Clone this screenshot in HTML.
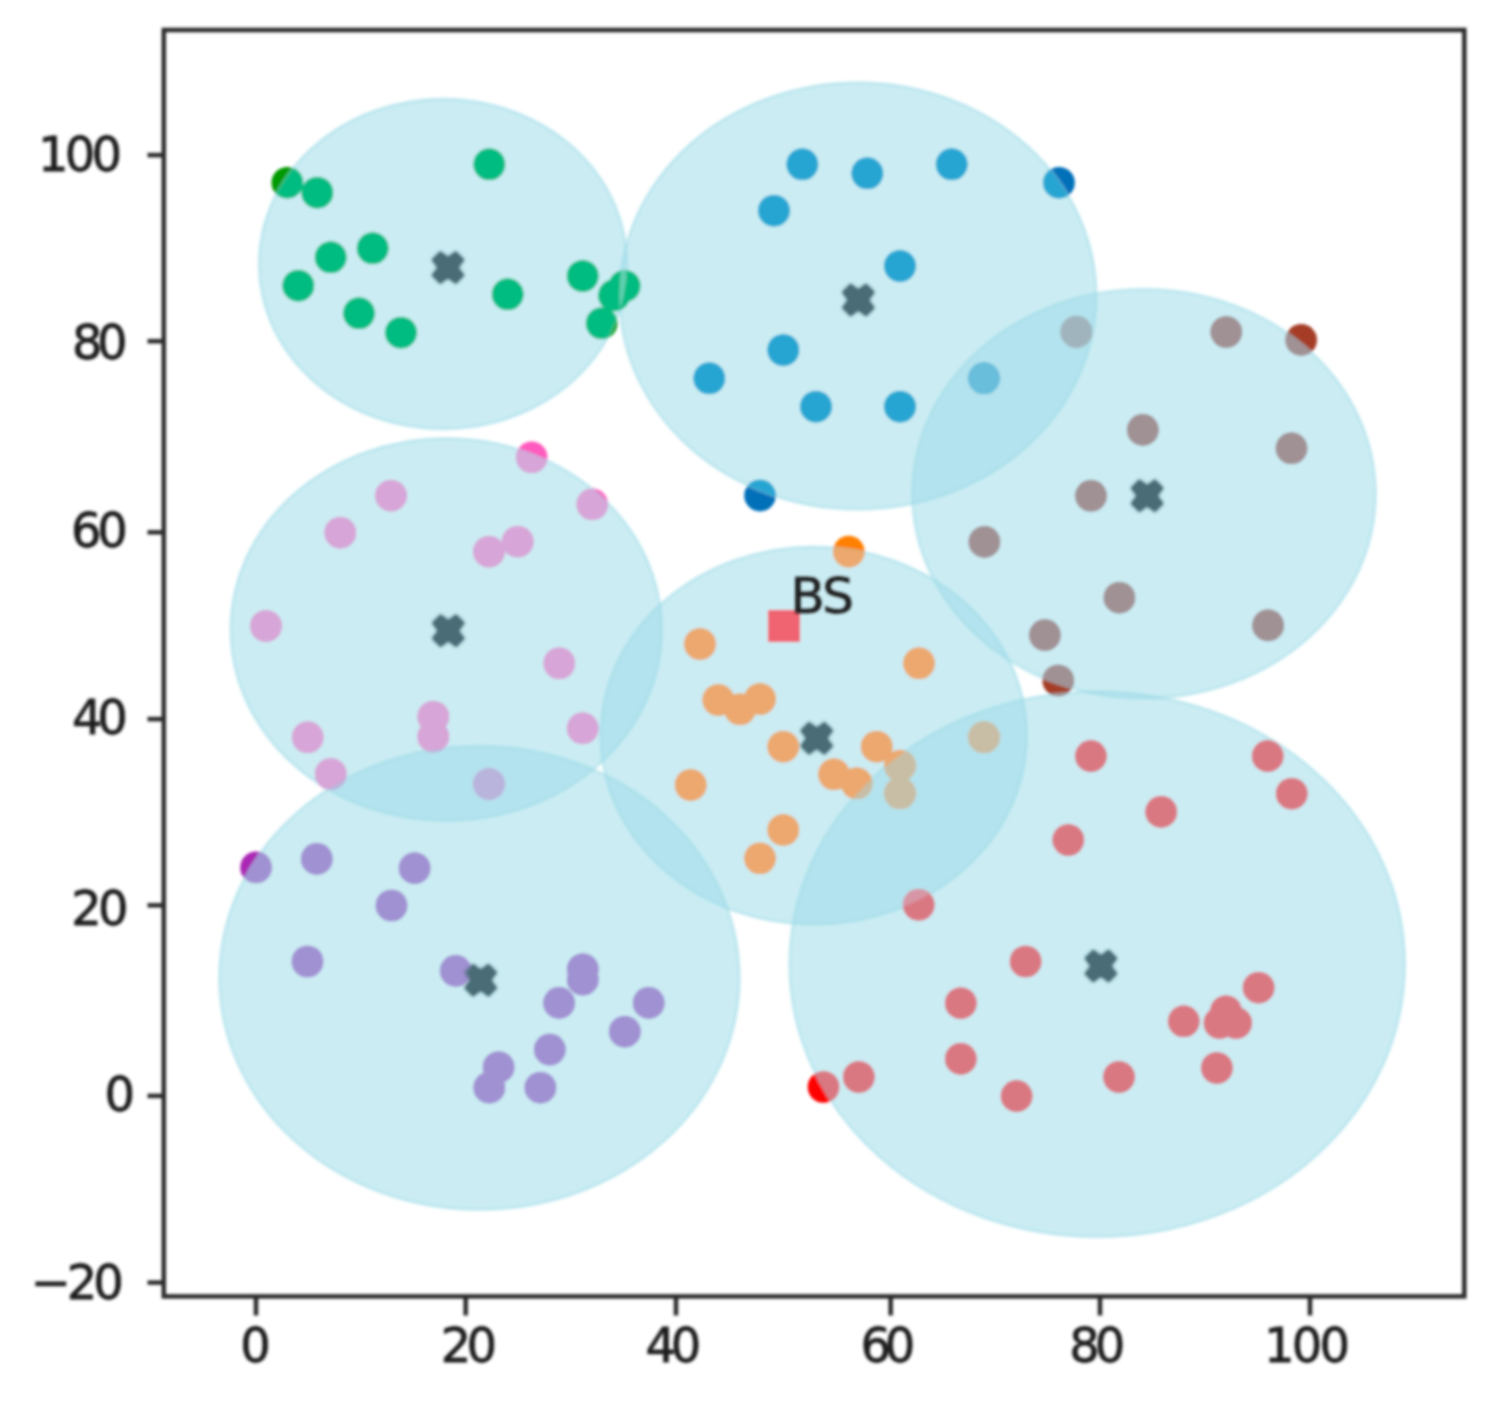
<!DOCTYPE html>
<html lang="en"><head><meta charset="utf-8"><title>Clusters</title>
<style>
html,body{margin:0;padding:0;background:#fff;}
body{width:1500px;height:1405px;overflow:hidden;}
svg{display:block;}
text{font-family:"DejaVu Sans","Liberation Sans",sans-serif;fill:#1e1e1e;}
</style></head><body>
<svg width="1500" height="1405" viewBox="0 0 1500 1405">
<defs>
<filter id="soft" x="-2%" y="-2%" width="104%" height="104%"><feGaussianBlur stdDeviation="1.5"/></filter>

<clipPath id="c-green"><ellipse cx="443.0" cy="264.0" rx="184.0" ry="165.0"/></clipPath>
<clipPath id="c-blue"><ellipse cx="857.8" cy="296.0" rx="238.4" ry="213.4"/></clipPath>
<clipPath id="c-brown"><ellipse cx="1144.0" cy="493.8" rx="231.6" ry="204.6"/></clipPath>
<clipPath id="c-pink"><ellipse cx="446.2" cy="629.5" rx="215.5" ry="191.2"/></clipPath>
<clipPath id="c-orange"><ellipse cx="813.7" cy="735.6" rx="213.0" ry="188.8"/></clipPath>
<clipPath id="c-purple"><ellipse cx="479.4" cy="977.9" rx="260.0" ry="231.8"/></clipPath>
<clipPath id="c-red"><ellipse cx="1097.2" cy="964.2" rx="307.6" ry="272.6"/></clipPath>
<clipPath id="c-all"><ellipse cx="443.0" cy="264.0" rx="184.0" ry="165.0"/><ellipse cx="857.8" cy="296.0" rx="238.4" ry="213.4"/><ellipse cx="1144.0" cy="493.8" rx="231.6" ry="204.6"/><ellipse cx="446.2" cy="629.5" rx="215.5" ry="191.2"/><ellipse cx="813.7" cy="735.6" rx="213.0" ry="188.8"/><ellipse cx="479.4" cy="977.9" rx="260.0" ry="231.8"/><ellipse cx="1097.2" cy="964.2" rx="307.6" ry="272.6"/></clipPath>
<path id="xm" d="M-1,-2 L0,-1.25 L1,-2 L2,-1 L1.25,0 L2,1 L1,2 L0,1.25 L-1,2 L-2,1 L-1.25,0 L-2,-1 Z" transform="scale(7.7)" stroke-width="0.2" stroke-linejoin="round"/>
</defs>
<rect width="1500" height="1405" fill="#fff"/>
<g filter="url(#soft)">
<g><g fill="#009900"><circle cx="287.3" cy="182.7" r="15.8"/><circle cx="317.3" cy="192.7" r="15.8"/><circle cx="489.3" cy="164.3" r="15.8"/><circle cx="372.7" cy="248.3" r="15.8"/><circle cx="330.7" cy="257.3" r="15.8"/><circle cx="298.3" cy="285.7" r="15.8"/><circle cx="359.0" cy="313.3" r="15.8"/><circle cx="401.0" cy="332.7" r="15.8"/><circle cx="507.7" cy="294.3" r="15.8"/><circle cx="582.7" cy="276.0" r="15.8"/><circle cx="614.1" cy="295.4" r="15.8"/><circle cx="624.6" cy="286.0" r="15.8"/><circle cx="601.7" cy="323.3" r="15.8"/></g><g fill="#0070B9"><circle cx="802.3" cy="164.3" r="15.8"/><circle cx="867.3" cy="173.3" r="15.8"/><circle cx="951.7" cy="164.3" r="15.8"/><circle cx="1059.0" cy="182.7" r="15.8"/><circle cx="774.0" cy="210.7" r="15.8"/><circle cx="900.0" cy="266.0" r="15.8"/><circle cx="783.3" cy="350.0" r="15.8"/><circle cx="709.3" cy="378.3" r="15.8"/><circle cx="816.0" cy="406.7" r="15.8"/><circle cx="900.0" cy="406.7" r="15.8"/><circle cx="984.0" cy="378.3" r="15.8"/><circle cx="760.0" cy="495.6" r="15.8"/></g><g fill="#A53C28"><circle cx="1076.4" cy="331.9" r="15.8"/><circle cx="1226.3" cy="332.0" r="15.8"/><circle cx="1301.2" cy="339.9" r="15.8"/><circle cx="1142.8" cy="429.9" r="15.8"/><circle cx="1291.5" cy="448.3" r="15.8"/><circle cx="1091.0" cy="495.8" r="15.8"/><circle cx="984.4" cy="541.9" r="15.8"/><circle cx="1119.4" cy="597.7" r="15.8"/><circle cx="1268.1" cy="625.4" r="15.8"/><circle cx="1044.9" cy="635.1" r="15.8"/><circle cx="1058.2" cy="680.5" r="15.8"/></g><g fill="#FF5ABE"><circle cx="531.7" cy="457.3" r="15.8"/><circle cx="391.0" cy="495.7" r="15.8"/><circle cx="592.3" cy="504.3" r="15.8"/><circle cx="340.3" cy="532.7" r="15.8"/><circle cx="517.7" cy="541.7" r="15.8"/><circle cx="489.0" cy="551.7" r="15.8"/><circle cx="266.0" cy="626.0" r="15.8"/><circle cx="559.3" cy="663.3" r="15.8"/><circle cx="433.3" cy="716.7" r="15.8"/><circle cx="433.3" cy="736.7" r="15.8"/><circle cx="307.7" cy="737.3" r="15.8"/><circle cx="582.7" cy="728.3" r="15.8"/><circle cx="330.7" cy="774.0" r="15.8"/><circle cx="489.0" cy="784.0" r="15.8"/></g><g fill="#FF8000"><circle cx="848.8" cy="551.6" r="15.8"/><circle cx="700.0" cy="644.0" r="15.8"/><circle cx="919.0" cy="663.3" r="15.8"/><circle cx="718.3" cy="700.0" r="15.8"/><circle cx="740.0" cy="709.3" r="15.8"/><circle cx="760.0" cy="699.0" r="15.8"/><circle cx="783.3" cy="746.7" r="15.8"/><circle cx="876.7" cy="746.7" r="15.8"/><circle cx="900.0" cy="765.7" r="15.8"/><circle cx="834.0" cy="774.3" r="15.8"/><circle cx="856.7" cy="783.3" r="15.8"/><circle cx="900.0" cy="793.3" r="15.8"/><circle cx="984.0" cy="737.3" r="15.8"/><circle cx="690.7" cy="785.0" r="15.8"/><circle cx="783.3" cy="830.0" r="15.8"/><circle cx="760.0" cy="858.3" r="15.8"/></g><g fill="#AA28B4"><circle cx="256.0" cy="867.4" r="15.8"/><circle cx="316.8" cy="858.9" r="15.8"/><circle cx="414.6" cy="868.2" r="15.8"/><circle cx="391.5" cy="905.5" r="15.8"/><circle cx="307.5" cy="961.5" r="15.8"/><circle cx="455.7" cy="970.8" r="15.8"/><circle cx="582.8" cy="969.2" r="15.8"/><circle cx="582.8" cy="979.7" r="15.8"/><circle cx="559.1" cy="1002.9" r="15.8"/><circle cx="648.7" cy="1002.9" r="15.8"/><circle cx="624.8" cy="1031.7" r="15.8"/><circle cx="549.8" cy="1049.6" r="15.8"/><circle cx="498.6" cy="1067.2" r="15.8"/><circle cx="489.3" cy="1087.7" r="15.8"/><circle cx="540.4" cy="1087.7" r="15.8"/></g><g fill="#FF0000"><circle cx="1090.9" cy="756.1" r="15.8"/><circle cx="1267.7" cy="756.1" r="15.8"/><circle cx="1291.7" cy="793.7" r="15.8"/><circle cx="1161.2" cy="811.9" r="15.8"/><circle cx="1068.3" cy="840.0" r="15.8"/><circle cx="918.7" cy="904.8" r="15.8"/><circle cx="1025.6" cy="961.5" r="15.8"/><circle cx="960.8" cy="1003.2" r="15.8"/><circle cx="960.8" cy="1058.9" r="15.8"/><circle cx="858.8" cy="1077.0" r="15.8"/><circle cx="823.5" cy="1087.0" r="15.8"/><circle cx="1016.6" cy="1096.1" r="15.8"/><circle cx="1119.0" cy="1077.0" r="15.8"/><circle cx="1216.9" cy="1068.0" r="15.8"/><circle cx="1183.8" cy="1021.3" r="15.8"/><circle cx="1219.5" cy="1023.0" r="15.8"/><circle cx="1226.0" cy="1011.2" r="15.8"/><circle cx="1236.1" cy="1023.0" r="15.8"/><circle cx="1258.6" cy="987.7" r="15.8"/></g></g>
<rect x="768.0" y="610.0" width="32" height="32" fill="#ff0000"/>
<g fill="#000" stroke="#000"><use href="#xm" x="448.0" y="267.6"/><use href="#xm" x="858.3" y="300.0"/><use href="#xm" x="1147.1" y="495.8"/><use href="#xm" x="448.3" y="630.7"/><use href="#xm" x="816.7" y="738.3"/><use href="#xm" x="480.7" y="980.2"/><use href="#xm" x="1100.9" y="966.0"/></g>
<g fill="rgb(157,219,232)" fill-opacity="0.53" stroke="rgb(157,219,232)" stroke-opacity="0.5" stroke-width="2.8"><ellipse cx="443.0" cy="264.0" rx="184.0" ry="165.0"/><ellipse cx="857.8" cy="296.0" rx="238.4" ry="213.4"/><ellipse cx="1144.0" cy="493.8" rx="231.6" ry="204.6"/><ellipse cx="446.2" cy="629.5" rx="215.5" ry="191.2"/><ellipse cx="813.7" cy="735.6" rx="213.0" ry="188.8"/><ellipse cx="479.4" cy="977.9" rx="260.0" ry="231.8"/><ellipse cx="1097.2" cy="964.2" rx="307.6" ry="272.6"/></g>
<g clip-path="url(#c-all)"><g fill="#00BC80"><circle cx="287.3" cy="182.7" r="15.8"/><circle cx="317.3" cy="192.7" r="15.8"/><circle cx="489.3" cy="164.3" r="15.8"/><circle cx="372.7" cy="248.3" r="15.8"/><circle cx="330.7" cy="257.3" r="15.8"/><circle cx="298.3" cy="285.7" r="15.8"/><circle cx="359.0" cy="313.3" r="15.8"/><circle cx="401.0" cy="332.7" r="15.8"/><circle cx="507.7" cy="294.3" r="15.8"/><circle cx="582.7" cy="276.0" r="15.8"/><circle cx="614.1" cy="295.4" r="15.8"/><circle cx="624.6" cy="286.0" r="15.8"/><circle cx="601.7" cy="323.3" r="15.8"/></g><g fill="#28A5D2"><circle cx="802.3" cy="164.3" r="15.8"/><circle cx="867.3" cy="173.3" r="15.8"/><circle cx="951.7" cy="164.3" r="15.8"/><circle cx="1059.0" cy="182.7" r="15.8"/><circle cx="774.0" cy="210.7" r="15.8"/><circle cx="900.0" cy="266.0" r="15.8"/><circle cx="783.3" cy="350.0" r="15.8"/><circle cx="709.3" cy="378.3" r="15.8"/><circle cx="816.0" cy="406.7" r="15.8"/><circle cx="900.0" cy="406.7" r="15.8"/><circle cx="984.0" cy="378.3" r="15.8"/><circle cx="760.0" cy="495.6" r="15.8"/></g><g fill="#A09194"><circle cx="1076.4" cy="331.9" r="15.8"/><circle cx="1226.3" cy="332.0" r="15.8"/><circle cx="1301.2" cy="339.9" r="15.8"/><circle cx="1142.8" cy="429.9" r="15.8"/><circle cx="1291.5" cy="448.3" r="15.8"/><circle cx="1091.0" cy="495.8" r="15.8"/><circle cx="984.4" cy="541.9" r="15.8"/><circle cx="1119.4" cy="597.7" r="15.8"/><circle cx="1268.1" cy="625.4" r="15.8"/><circle cx="1044.9" cy="635.1" r="15.8"/><circle cx="1058.2" cy="680.5" r="15.8"/></g><g fill="#D7A5D7"><circle cx="531.7" cy="457.3" r="15.8"/><circle cx="391.0" cy="495.7" r="15.8"/><circle cx="592.3" cy="504.3" r="15.8"/><circle cx="340.3" cy="532.7" r="15.8"/><circle cx="517.7" cy="541.7" r="15.8"/><circle cx="489.0" cy="551.7" r="15.8"/><circle cx="266.0" cy="626.0" r="15.8"/><circle cx="559.3" cy="663.3" r="15.8"/><circle cx="433.3" cy="716.7" r="15.8"/><circle cx="433.3" cy="736.7" r="15.8"/><circle cx="307.7" cy="737.3" r="15.8"/><circle cx="582.7" cy="728.3" r="15.8"/><circle cx="330.7" cy="774.0" r="15.8"/><circle cx="489.0" cy="784.0" r="15.8"/></g><g fill="#ECA86E"><circle cx="848.8" cy="551.6" r="15.8"/><circle cx="700.0" cy="644.0" r="15.8"/><circle cx="919.0" cy="663.3" r="15.8"/><circle cx="718.3" cy="700.0" r="15.8"/><circle cx="740.0" cy="709.3" r="15.8"/><circle cx="760.0" cy="699.0" r="15.8"/><circle cx="783.3" cy="746.7" r="15.8"/><circle cx="876.7" cy="746.7" r="15.8"/><circle cx="900.0" cy="765.7" r="15.8"/><circle cx="834.0" cy="774.3" r="15.8"/><circle cx="856.7" cy="783.3" r="15.8"/><circle cx="900.0" cy="793.3" r="15.8"/><circle cx="984.0" cy="737.3" r="15.8"/><circle cx="690.7" cy="785.0" r="15.8"/><circle cx="783.3" cy="830.0" r="15.8"/><circle cx="760.0" cy="858.3" r="15.8"/></g><g fill="#A091D2"><circle cx="256.0" cy="867.4" r="15.8"/><circle cx="316.8" cy="858.9" r="15.8"/><circle cx="414.6" cy="868.2" r="15.8"/><circle cx="391.5" cy="905.5" r="15.8"/><circle cx="307.5" cy="961.5" r="15.8"/><circle cx="455.7" cy="970.8" r="15.8"/><circle cx="582.8" cy="969.2" r="15.8"/><circle cx="582.8" cy="979.7" r="15.8"/><circle cx="559.1" cy="1002.9" r="15.8"/><circle cx="648.7" cy="1002.9" r="15.8"/><circle cx="624.8" cy="1031.7" r="15.8"/><circle cx="549.8" cy="1049.6" r="15.8"/><circle cx="498.6" cy="1067.2" r="15.8"/><circle cx="489.3" cy="1087.7" r="15.8"/><circle cx="540.4" cy="1087.7" r="15.8"/></g><g fill="#DA7882"><circle cx="1090.9" cy="756.1" r="15.8"/><circle cx="1267.7" cy="756.1" r="15.8"/><circle cx="1291.7" cy="793.7" r="15.8"/><circle cx="1161.2" cy="811.9" r="15.8"/><circle cx="1068.3" cy="840.0" r="15.8"/><circle cx="918.7" cy="904.8" r="15.8"/><circle cx="1025.6" cy="961.5" r="15.8"/><circle cx="960.8" cy="1003.2" r="15.8"/><circle cx="960.8" cy="1058.9" r="15.8"/><circle cx="858.8" cy="1077.0" r="15.8"/><circle cx="823.5" cy="1087.0" r="15.8"/><circle cx="1016.6" cy="1096.1" r="15.8"/><circle cx="1119.0" cy="1077.0" r="15.8"/><circle cx="1216.9" cy="1068.0" r="15.8"/><circle cx="1183.8" cy="1021.3" r="15.8"/><circle cx="1219.5" cy="1023.0" r="15.8"/><circle cx="1226.0" cy="1011.2" r="15.8"/><circle cx="1236.1" cy="1023.0" r="15.8"/><circle cx="1258.6" cy="987.7" r="15.8"/></g>
<rect x="768.0" y="610.0" width="32" height="32" fill="#F0646F"/>
<g fill="#486C76" stroke="#486C76" filter="url(#soft)"><use href="#xm" x="448.0" y="267.6"/><use href="#xm" x="858.3" y="300.0"/><use href="#xm" x="1147.1" y="495.8"/><use href="#xm" x="448.3" y="630.7"/><use href="#xm" x="816.7" y="738.3"/><use href="#xm" x="480.7" y="980.2"/><use href="#xm" x="1100.9" y="966.0"/></g>
</g>
<g clip-path="url(#c-blue)"><g clip-path="url(#c-brown)"><g fill="#5fd0b0"><circle cx="287.3" cy="182.7" r="15.8"/><circle cx="317.3" cy="192.7" r="15.8"/><circle cx="489.3" cy="164.3" r="15.8"/><circle cx="372.7" cy="248.3" r="15.8"/><circle cx="330.7" cy="257.3" r="15.8"/><circle cx="298.3" cy="285.7" r="15.8"/><circle cx="359.0" cy="313.3" r="15.8"/><circle cx="401.0" cy="332.7" r="15.8"/><circle cx="507.7" cy="294.3" r="15.8"/><circle cx="582.7" cy="276.0" r="15.8"/><circle cx="614.1" cy="295.4" r="15.8"/><circle cx="624.6" cy="286.0" r="15.8"/><circle cx="601.7" cy="323.3" r="15.8"/></g><g fill="#69BEDC"><circle cx="802.3" cy="164.3" r="15.8"/><circle cx="867.3" cy="173.3" r="15.8"/><circle cx="951.7" cy="164.3" r="15.8"/><circle cx="1059.0" cy="182.7" r="15.8"/><circle cx="774.0" cy="210.7" r="15.8"/><circle cx="900.0" cy="266.0" r="15.8"/><circle cx="783.3" cy="350.0" r="15.8"/><circle cx="709.3" cy="378.3" r="15.8"/><circle cx="816.0" cy="406.7" r="15.8"/><circle cx="900.0" cy="406.7" r="15.8"/><circle cx="984.0" cy="378.3" r="15.8"/><circle cx="760.0" cy="495.6" r="15.8"/></g><g fill="#A0B4BE"><circle cx="1076.4" cy="331.9" r="15.8"/><circle cx="1226.3" cy="332.0" r="15.8"/><circle cx="1301.2" cy="339.9" r="15.8"/><circle cx="1142.8" cy="429.9" r="15.8"/><circle cx="1291.5" cy="448.3" r="15.8"/><circle cx="1091.0" cy="495.8" r="15.8"/><circle cx="984.4" cy="541.9" r="15.8"/><circle cx="1119.4" cy="597.7" r="15.8"/><circle cx="1268.1" cy="625.4" r="15.8"/><circle cx="1044.9" cy="635.1" r="15.8"/><circle cx="1058.2" cy="680.5" r="15.8"/></g><g fill="#B8B4DC"><circle cx="531.7" cy="457.3" r="15.8"/><circle cx="391.0" cy="495.7" r="15.8"/><circle cx="592.3" cy="504.3" r="15.8"/><circle cx="340.3" cy="532.7" r="15.8"/><circle cx="517.7" cy="541.7" r="15.8"/><circle cx="489.0" cy="551.7" r="15.8"/><circle cx="266.0" cy="626.0" r="15.8"/><circle cx="559.3" cy="663.3" r="15.8"/><circle cx="433.3" cy="716.7" r="15.8"/><circle cx="433.3" cy="736.7" r="15.8"/><circle cx="307.7" cy="737.3" r="15.8"/><circle cx="582.7" cy="728.3" r="15.8"/><circle cx="330.7" cy="774.0" r="15.8"/><circle cx="489.0" cy="784.0" r="15.8"/></g><g fill="#C8BEA5"><circle cx="848.8" cy="551.6" r="15.8"/><circle cx="700.0" cy="644.0" r="15.8"/><circle cx="919.0" cy="663.3" r="15.8"/><circle cx="718.3" cy="700.0" r="15.8"/><circle cx="740.0" cy="709.3" r="15.8"/><circle cx="760.0" cy="699.0" r="15.8"/><circle cx="783.3" cy="746.7" r="15.8"/><circle cx="876.7" cy="746.7" r="15.8"/><circle cx="900.0" cy="765.7" r="15.8"/><circle cx="834.0" cy="774.3" r="15.8"/><circle cx="856.7" cy="783.3" r="15.8"/><circle cx="900.0" cy="793.3" r="15.8"/><circle cx="984.0" cy="737.3" r="15.8"/><circle cx="690.7" cy="785.0" r="15.8"/><circle cx="783.3" cy="830.0" r="15.8"/><circle cx="760.0" cy="858.3" r="15.8"/></g><g fill="#A0B4DC"><circle cx="256.0" cy="867.4" r="15.8"/><circle cx="316.8" cy="858.9" r="15.8"/><circle cx="414.6" cy="868.2" r="15.8"/><circle cx="391.5" cy="905.5" r="15.8"/><circle cx="307.5" cy="961.5" r="15.8"/><circle cx="455.7" cy="970.8" r="15.8"/><circle cx="582.8" cy="969.2" r="15.8"/><circle cx="582.8" cy="979.7" r="15.8"/><circle cx="559.1" cy="1002.9" r="15.8"/><circle cx="648.7" cy="1002.9" r="15.8"/><circle cx="624.8" cy="1031.7" r="15.8"/><circle cx="549.8" cy="1049.6" r="15.8"/><circle cx="498.6" cy="1067.2" r="15.8"/><circle cx="489.3" cy="1087.7" r="15.8"/><circle cx="540.4" cy="1087.7" r="15.8"/></g><g fill="#D796A5"><circle cx="1090.9" cy="756.1" r="15.8"/><circle cx="1267.7" cy="756.1" r="15.8"/><circle cx="1291.7" cy="793.7" r="15.8"/><circle cx="1161.2" cy="811.9" r="15.8"/><circle cx="1068.3" cy="840.0" r="15.8"/><circle cx="918.7" cy="904.8" r="15.8"/><circle cx="1025.6" cy="961.5" r="15.8"/><circle cx="960.8" cy="1003.2" r="15.8"/><circle cx="960.8" cy="1058.9" r="15.8"/><circle cx="858.8" cy="1077.0" r="15.8"/><circle cx="823.5" cy="1087.0" r="15.8"/><circle cx="1016.6" cy="1096.1" r="15.8"/><circle cx="1119.0" cy="1077.0" r="15.8"/><circle cx="1216.9" cy="1068.0" r="15.8"/><circle cx="1183.8" cy="1021.3" r="15.8"/><circle cx="1219.5" cy="1023.0" r="15.8"/><circle cx="1226.0" cy="1011.2" r="15.8"/><circle cx="1236.1" cy="1023.0" r="15.8"/><circle cx="1258.6" cy="987.7" r="15.8"/></g></g></g>
<g clip-path="url(#c-pink)"><g clip-path="url(#c-purple)"><g fill="#5fd0b0"><circle cx="287.3" cy="182.7" r="15.8"/><circle cx="317.3" cy="192.7" r="15.8"/><circle cx="489.3" cy="164.3" r="15.8"/><circle cx="372.7" cy="248.3" r="15.8"/><circle cx="330.7" cy="257.3" r="15.8"/><circle cx="298.3" cy="285.7" r="15.8"/><circle cx="359.0" cy="313.3" r="15.8"/><circle cx="401.0" cy="332.7" r="15.8"/><circle cx="507.7" cy="294.3" r="15.8"/><circle cx="582.7" cy="276.0" r="15.8"/><circle cx="614.1" cy="295.4" r="15.8"/><circle cx="624.6" cy="286.0" r="15.8"/><circle cx="601.7" cy="323.3" r="15.8"/></g><g fill="#69BEDC"><circle cx="802.3" cy="164.3" r="15.8"/><circle cx="867.3" cy="173.3" r="15.8"/><circle cx="951.7" cy="164.3" r="15.8"/><circle cx="1059.0" cy="182.7" r="15.8"/><circle cx="774.0" cy="210.7" r="15.8"/><circle cx="900.0" cy="266.0" r="15.8"/><circle cx="783.3" cy="350.0" r="15.8"/><circle cx="709.3" cy="378.3" r="15.8"/><circle cx="816.0" cy="406.7" r="15.8"/><circle cx="900.0" cy="406.7" r="15.8"/><circle cx="984.0" cy="378.3" r="15.8"/><circle cx="760.0" cy="495.6" r="15.8"/></g><g fill="#A0B4BE"><circle cx="1076.4" cy="331.9" r="15.8"/><circle cx="1226.3" cy="332.0" r="15.8"/><circle cx="1301.2" cy="339.9" r="15.8"/><circle cx="1142.8" cy="429.9" r="15.8"/><circle cx="1291.5" cy="448.3" r="15.8"/><circle cx="1091.0" cy="495.8" r="15.8"/><circle cx="984.4" cy="541.9" r="15.8"/><circle cx="1119.4" cy="597.7" r="15.8"/><circle cx="1268.1" cy="625.4" r="15.8"/><circle cx="1044.9" cy="635.1" r="15.8"/><circle cx="1058.2" cy="680.5" r="15.8"/></g><g fill="#B8B4DC"><circle cx="531.7" cy="457.3" r="15.8"/><circle cx="391.0" cy="495.7" r="15.8"/><circle cx="592.3" cy="504.3" r="15.8"/><circle cx="340.3" cy="532.7" r="15.8"/><circle cx="517.7" cy="541.7" r="15.8"/><circle cx="489.0" cy="551.7" r="15.8"/><circle cx="266.0" cy="626.0" r="15.8"/><circle cx="559.3" cy="663.3" r="15.8"/><circle cx="433.3" cy="716.7" r="15.8"/><circle cx="433.3" cy="736.7" r="15.8"/><circle cx="307.7" cy="737.3" r="15.8"/><circle cx="582.7" cy="728.3" r="15.8"/><circle cx="330.7" cy="774.0" r="15.8"/><circle cx="489.0" cy="784.0" r="15.8"/></g><g fill="#C8BEA5"><circle cx="848.8" cy="551.6" r="15.8"/><circle cx="700.0" cy="644.0" r="15.8"/><circle cx="919.0" cy="663.3" r="15.8"/><circle cx="718.3" cy="700.0" r="15.8"/><circle cx="740.0" cy="709.3" r="15.8"/><circle cx="760.0" cy="699.0" r="15.8"/><circle cx="783.3" cy="746.7" r="15.8"/><circle cx="876.7" cy="746.7" r="15.8"/><circle cx="900.0" cy="765.7" r="15.8"/><circle cx="834.0" cy="774.3" r="15.8"/><circle cx="856.7" cy="783.3" r="15.8"/><circle cx="900.0" cy="793.3" r="15.8"/><circle cx="984.0" cy="737.3" r="15.8"/><circle cx="690.7" cy="785.0" r="15.8"/><circle cx="783.3" cy="830.0" r="15.8"/><circle cx="760.0" cy="858.3" r="15.8"/></g><g fill="#A0B4DC"><circle cx="256.0" cy="867.4" r="15.8"/><circle cx="316.8" cy="858.9" r="15.8"/><circle cx="414.6" cy="868.2" r="15.8"/><circle cx="391.5" cy="905.5" r="15.8"/><circle cx="307.5" cy="961.5" r="15.8"/><circle cx="455.7" cy="970.8" r="15.8"/><circle cx="582.8" cy="969.2" r="15.8"/><circle cx="582.8" cy="979.7" r="15.8"/><circle cx="559.1" cy="1002.9" r="15.8"/><circle cx="648.7" cy="1002.9" r="15.8"/><circle cx="624.8" cy="1031.7" r="15.8"/><circle cx="549.8" cy="1049.6" r="15.8"/><circle cx="498.6" cy="1067.2" r="15.8"/><circle cx="489.3" cy="1087.7" r="15.8"/><circle cx="540.4" cy="1087.7" r="15.8"/></g><g fill="#D796A5"><circle cx="1090.9" cy="756.1" r="15.8"/><circle cx="1267.7" cy="756.1" r="15.8"/><circle cx="1291.7" cy="793.7" r="15.8"/><circle cx="1161.2" cy="811.9" r="15.8"/><circle cx="1068.3" cy="840.0" r="15.8"/><circle cx="918.7" cy="904.8" r="15.8"/><circle cx="1025.6" cy="961.5" r="15.8"/><circle cx="960.8" cy="1003.2" r="15.8"/><circle cx="960.8" cy="1058.9" r="15.8"/><circle cx="858.8" cy="1077.0" r="15.8"/><circle cx="823.5" cy="1087.0" r="15.8"/><circle cx="1016.6" cy="1096.1" r="15.8"/><circle cx="1119.0" cy="1077.0" r="15.8"/><circle cx="1216.9" cy="1068.0" r="15.8"/><circle cx="1183.8" cy="1021.3" r="15.8"/><circle cx="1219.5" cy="1023.0" r="15.8"/><circle cx="1226.0" cy="1011.2" r="15.8"/><circle cx="1236.1" cy="1023.0" r="15.8"/><circle cx="1258.6" cy="987.7" r="15.8"/></g></g></g>
<g clip-path="url(#c-pink)"><g clip-path="url(#c-orange)"><g fill="#5fd0b0"><circle cx="287.3" cy="182.7" r="15.8"/><circle cx="317.3" cy="192.7" r="15.8"/><circle cx="489.3" cy="164.3" r="15.8"/><circle cx="372.7" cy="248.3" r="15.8"/><circle cx="330.7" cy="257.3" r="15.8"/><circle cx="298.3" cy="285.7" r="15.8"/><circle cx="359.0" cy="313.3" r="15.8"/><circle cx="401.0" cy="332.7" r="15.8"/><circle cx="507.7" cy="294.3" r="15.8"/><circle cx="582.7" cy="276.0" r="15.8"/><circle cx="614.1" cy="295.4" r="15.8"/><circle cx="624.6" cy="286.0" r="15.8"/><circle cx="601.7" cy="323.3" r="15.8"/></g><g fill="#69BEDC"><circle cx="802.3" cy="164.3" r="15.8"/><circle cx="867.3" cy="173.3" r="15.8"/><circle cx="951.7" cy="164.3" r="15.8"/><circle cx="1059.0" cy="182.7" r="15.8"/><circle cx="774.0" cy="210.7" r="15.8"/><circle cx="900.0" cy="266.0" r="15.8"/><circle cx="783.3" cy="350.0" r="15.8"/><circle cx="709.3" cy="378.3" r="15.8"/><circle cx="816.0" cy="406.7" r="15.8"/><circle cx="900.0" cy="406.7" r="15.8"/><circle cx="984.0" cy="378.3" r="15.8"/><circle cx="760.0" cy="495.6" r="15.8"/></g><g fill="#A0B4BE"><circle cx="1076.4" cy="331.9" r="15.8"/><circle cx="1226.3" cy="332.0" r="15.8"/><circle cx="1301.2" cy="339.9" r="15.8"/><circle cx="1142.8" cy="429.9" r="15.8"/><circle cx="1291.5" cy="448.3" r="15.8"/><circle cx="1091.0" cy="495.8" r="15.8"/><circle cx="984.4" cy="541.9" r="15.8"/><circle cx="1119.4" cy="597.7" r="15.8"/><circle cx="1268.1" cy="625.4" r="15.8"/><circle cx="1044.9" cy="635.1" r="15.8"/><circle cx="1058.2" cy="680.5" r="15.8"/></g><g fill="#B8B4DC"><circle cx="531.7" cy="457.3" r="15.8"/><circle cx="391.0" cy="495.7" r="15.8"/><circle cx="592.3" cy="504.3" r="15.8"/><circle cx="340.3" cy="532.7" r="15.8"/><circle cx="517.7" cy="541.7" r="15.8"/><circle cx="489.0" cy="551.7" r="15.8"/><circle cx="266.0" cy="626.0" r="15.8"/><circle cx="559.3" cy="663.3" r="15.8"/><circle cx="433.3" cy="716.7" r="15.8"/><circle cx="433.3" cy="736.7" r="15.8"/><circle cx="307.7" cy="737.3" r="15.8"/><circle cx="582.7" cy="728.3" r="15.8"/><circle cx="330.7" cy="774.0" r="15.8"/><circle cx="489.0" cy="784.0" r="15.8"/></g><g fill="#C8BEA5"><circle cx="848.8" cy="551.6" r="15.8"/><circle cx="700.0" cy="644.0" r="15.8"/><circle cx="919.0" cy="663.3" r="15.8"/><circle cx="718.3" cy="700.0" r="15.8"/><circle cx="740.0" cy="709.3" r="15.8"/><circle cx="760.0" cy="699.0" r="15.8"/><circle cx="783.3" cy="746.7" r="15.8"/><circle cx="876.7" cy="746.7" r="15.8"/><circle cx="900.0" cy="765.7" r="15.8"/><circle cx="834.0" cy="774.3" r="15.8"/><circle cx="856.7" cy="783.3" r="15.8"/><circle cx="900.0" cy="793.3" r="15.8"/><circle cx="984.0" cy="737.3" r="15.8"/><circle cx="690.7" cy="785.0" r="15.8"/><circle cx="783.3" cy="830.0" r="15.8"/><circle cx="760.0" cy="858.3" r="15.8"/></g><g fill="#A0B4DC"><circle cx="256.0" cy="867.4" r="15.8"/><circle cx="316.8" cy="858.9" r="15.8"/><circle cx="414.6" cy="868.2" r="15.8"/><circle cx="391.5" cy="905.5" r="15.8"/><circle cx="307.5" cy="961.5" r="15.8"/><circle cx="455.7" cy="970.8" r="15.8"/><circle cx="582.8" cy="969.2" r="15.8"/><circle cx="582.8" cy="979.7" r="15.8"/><circle cx="559.1" cy="1002.9" r="15.8"/><circle cx="648.7" cy="1002.9" r="15.8"/><circle cx="624.8" cy="1031.7" r="15.8"/><circle cx="549.8" cy="1049.6" r="15.8"/><circle cx="498.6" cy="1067.2" r="15.8"/><circle cx="489.3" cy="1087.7" r="15.8"/><circle cx="540.4" cy="1087.7" r="15.8"/></g><g fill="#D796A5"><circle cx="1090.9" cy="756.1" r="15.8"/><circle cx="1267.7" cy="756.1" r="15.8"/><circle cx="1291.7" cy="793.7" r="15.8"/><circle cx="1161.2" cy="811.9" r="15.8"/><circle cx="1068.3" cy="840.0" r="15.8"/><circle cx="918.7" cy="904.8" r="15.8"/><circle cx="1025.6" cy="961.5" r="15.8"/><circle cx="960.8" cy="1003.2" r="15.8"/><circle cx="960.8" cy="1058.9" r="15.8"/><circle cx="858.8" cy="1077.0" r="15.8"/><circle cx="823.5" cy="1087.0" r="15.8"/><circle cx="1016.6" cy="1096.1" r="15.8"/><circle cx="1119.0" cy="1077.0" r="15.8"/><circle cx="1216.9" cy="1068.0" r="15.8"/><circle cx="1183.8" cy="1021.3" r="15.8"/><circle cx="1219.5" cy="1023.0" r="15.8"/><circle cx="1226.0" cy="1011.2" r="15.8"/><circle cx="1236.1" cy="1023.0" r="15.8"/><circle cx="1258.6" cy="987.7" r="15.8"/></g></g></g>
<g clip-path="url(#c-orange)"><g clip-path="url(#c-purple)"><g fill="#5fd0b0"><circle cx="287.3" cy="182.7" r="15.8"/><circle cx="317.3" cy="192.7" r="15.8"/><circle cx="489.3" cy="164.3" r="15.8"/><circle cx="372.7" cy="248.3" r="15.8"/><circle cx="330.7" cy="257.3" r="15.8"/><circle cx="298.3" cy="285.7" r="15.8"/><circle cx="359.0" cy="313.3" r="15.8"/><circle cx="401.0" cy="332.7" r="15.8"/><circle cx="507.7" cy="294.3" r="15.8"/><circle cx="582.7" cy="276.0" r="15.8"/><circle cx="614.1" cy="295.4" r="15.8"/><circle cx="624.6" cy="286.0" r="15.8"/><circle cx="601.7" cy="323.3" r="15.8"/></g><g fill="#69BEDC"><circle cx="802.3" cy="164.3" r="15.8"/><circle cx="867.3" cy="173.3" r="15.8"/><circle cx="951.7" cy="164.3" r="15.8"/><circle cx="1059.0" cy="182.7" r="15.8"/><circle cx="774.0" cy="210.7" r="15.8"/><circle cx="900.0" cy="266.0" r="15.8"/><circle cx="783.3" cy="350.0" r="15.8"/><circle cx="709.3" cy="378.3" r="15.8"/><circle cx="816.0" cy="406.7" r="15.8"/><circle cx="900.0" cy="406.7" r="15.8"/><circle cx="984.0" cy="378.3" r="15.8"/><circle cx="760.0" cy="495.6" r="15.8"/></g><g fill="#A0B4BE"><circle cx="1076.4" cy="331.9" r="15.8"/><circle cx="1226.3" cy="332.0" r="15.8"/><circle cx="1301.2" cy="339.9" r="15.8"/><circle cx="1142.8" cy="429.9" r="15.8"/><circle cx="1291.5" cy="448.3" r="15.8"/><circle cx="1091.0" cy="495.8" r="15.8"/><circle cx="984.4" cy="541.9" r="15.8"/><circle cx="1119.4" cy="597.7" r="15.8"/><circle cx="1268.1" cy="625.4" r="15.8"/><circle cx="1044.9" cy="635.1" r="15.8"/><circle cx="1058.2" cy="680.5" r="15.8"/></g><g fill="#B8B4DC"><circle cx="531.7" cy="457.3" r="15.8"/><circle cx="391.0" cy="495.7" r="15.8"/><circle cx="592.3" cy="504.3" r="15.8"/><circle cx="340.3" cy="532.7" r="15.8"/><circle cx="517.7" cy="541.7" r="15.8"/><circle cx="489.0" cy="551.7" r="15.8"/><circle cx="266.0" cy="626.0" r="15.8"/><circle cx="559.3" cy="663.3" r="15.8"/><circle cx="433.3" cy="716.7" r="15.8"/><circle cx="433.3" cy="736.7" r="15.8"/><circle cx="307.7" cy="737.3" r="15.8"/><circle cx="582.7" cy="728.3" r="15.8"/><circle cx="330.7" cy="774.0" r="15.8"/><circle cx="489.0" cy="784.0" r="15.8"/></g><g fill="#C8BEA5"><circle cx="848.8" cy="551.6" r="15.8"/><circle cx="700.0" cy="644.0" r="15.8"/><circle cx="919.0" cy="663.3" r="15.8"/><circle cx="718.3" cy="700.0" r="15.8"/><circle cx="740.0" cy="709.3" r="15.8"/><circle cx="760.0" cy="699.0" r="15.8"/><circle cx="783.3" cy="746.7" r="15.8"/><circle cx="876.7" cy="746.7" r="15.8"/><circle cx="900.0" cy="765.7" r="15.8"/><circle cx="834.0" cy="774.3" r="15.8"/><circle cx="856.7" cy="783.3" r="15.8"/><circle cx="900.0" cy="793.3" r="15.8"/><circle cx="984.0" cy="737.3" r="15.8"/><circle cx="690.7" cy="785.0" r="15.8"/><circle cx="783.3" cy="830.0" r="15.8"/><circle cx="760.0" cy="858.3" r="15.8"/></g><g fill="#A0B4DC"><circle cx="256.0" cy="867.4" r="15.8"/><circle cx="316.8" cy="858.9" r="15.8"/><circle cx="414.6" cy="868.2" r="15.8"/><circle cx="391.5" cy="905.5" r="15.8"/><circle cx="307.5" cy="961.5" r="15.8"/><circle cx="455.7" cy="970.8" r="15.8"/><circle cx="582.8" cy="969.2" r="15.8"/><circle cx="582.8" cy="979.7" r="15.8"/><circle cx="559.1" cy="1002.9" r="15.8"/><circle cx="648.7" cy="1002.9" r="15.8"/><circle cx="624.8" cy="1031.7" r="15.8"/><circle cx="549.8" cy="1049.6" r="15.8"/><circle cx="498.6" cy="1067.2" r="15.8"/><circle cx="489.3" cy="1087.7" r="15.8"/><circle cx="540.4" cy="1087.7" r="15.8"/></g><g fill="#D796A5"><circle cx="1090.9" cy="756.1" r="15.8"/><circle cx="1267.7" cy="756.1" r="15.8"/><circle cx="1291.7" cy="793.7" r="15.8"/><circle cx="1161.2" cy="811.9" r="15.8"/><circle cx="1068.3" cy="840.0" r="15.8"/><circle cx="918.7" cy="904.8" r="15.8"/><circle cx="1025.6" cy="961.5" r="15.8"/><circle cx="960.8" cy="1003.2" r="15.8"/><circle cx="960.8" cy="1058.9" r="15.8"/><circle cx="858.8" cy="1077.0" r="15.8"/><circle cx="823.5" cy="1087.0" r="15.8"/><circle cx="1016.6" cy="1096.1" r="15.8"/><circle cx="1119.0" cy="1077.0" r="15.8"/><circle cx="1216.9" cy="1068.0" r="15.8"/><circle cx="1183.8" cy="1021.3" r="15.8"/><circle cx="1219.5" cy="1023.0" r="15.8"/><circle cx="1226.0" cy="1011.2" r="15.8"/><circle cx="1236.1" cy="1023.0" r="15.8"/><circle cx="1258.6" cy="987.7" r="15.8"/></g></g></g>
<g clip-path="url(#c-orange)"><g clip-path="url(#c-red)"><g fill="#5fd0b0"><circle cx="287.3" cy="182.7" r="15.8"/><circle cx="317.3" cy="192.7" r="15.8"/><circle cx="489.3" cy="164.3" r="15.8"/><circle cx="372.7" cy="248.3" r="15.8"/><circle cx="330.7" cy="257.3" r="15.8"/><circle cx="298.3" cy="285.7" r="15.8"/><circle cx="359.0" cy="313.3" r="15.8"/><circle cx="401.0" cy="332.7" r="15.8"/><circle cx="507.7" cy="294.3" r="15.8"/><circle cx="582.7" cy="276.0" r="15.8"/><circle cx="614.1" cy="295.4" r="15.8"/><circle cx="624.6" cy="286.0" r="15.8"/><circle cx="601.7" cy="323.3" r="15.8"/></g><g fill="#69BEDC"><circle cx="802.3" cy="164.3" r="15.8"/><circle cx="867.3" cy="173.3" r="15.8"/><circle cx="951.7" cy="164.3" r="15.8"/><circle cx="1059.0" cy="182.7" r="15.8"/><circle cx="774.0" cy="210.7" r="15.8"/><circle cx="900.0" cy="266.0" r="15.8"/><circle cx="783.3" cy="350.0" r="15.8"/><circle cx="709.3" cy="378.3" r="15.8"/><circle cx="816.0" cy="406.7" r="15.8"/><circle cx="900.0" cy="406.7" r="15.8"/><circle cx="984.0" cy="378.3" r="15.8"/><circle cx="760.0" cy="495.6" r="15.8"/></g><g fill="#A0B4BE"><circle cx="1076.4" cy="331.9" r="15.8"/><circle cx="1226.3" cy="332.0" r="15.8"/><circle cx="1301.2" cy="339.9" r="15.8"/><circle cx="1142.8" cy="429.9" r="15.8"/><circle cx="1291.5" cy="448.3" r="15.8"/><circle cx="1091.0" cy="495.8" r="15.8"/><circle cx="984.4" cy="541.9" r="15.8"/><circle cx="1119.4" cy="597.7" r="15.8"/><circle cx="1268.1" cy="625.4" r="15.8"/><circle cx="1044.9" cy="635.1" r="15.8"/><circle cx="1058.2" cy="680.5" r="15.8"/></g><g fill="#B8B4DC"><circle cx="531.7" cy="457.3" r="15.8"/><circle cx="391.0" cy="495.7" r="15.8"/><circle cx="592.3" cy="504.3" r="15.8"/><circle cx="340.3" cy="532.7" r="15.8"/><circle cx="517.7" cy="541.7" r="15.8"/><circle cx="489.0" cy="551.7" r="15.8"/><circle cx="266.0" cy="626.0" r="15.8"/><circle cx="559.3" cy="663.3" r="15.8"/><circle cx="433.3" cy="716.7" r="15.8"/><circle cx="433.3" cy="736.7" r="15.8"/><circle cx="307.7" cy="737.3" r="15.8"/><circle cx="582.7" cy="728.3" r="15.8"/><circle cx="330.7" cy="774.0" r="15.8"/><circle cx="489.0" cy="784.0" r="15.8"/></g><g fill="#C8BEA5"><circle cx="848.8" cy="551.6" r="15.8"/><circle cx="700.0" cy="644.0" r="15.8"/><circle cx="919.0" cy="663.3" r="15.8"/><circle cx="718.3" cy="700.0" r="15.8"/><circle cx="740.0" cy="709.3" r="15.8"/><circle cx="760.0" cy="699.0" r="15.8"/><circle cx="783.3" cy="746.7" r="15.8"/><circle cx="876.7" cy="746.7" r="15.8"/><circle cx="900.0" cy="765.7" r="15.8"/><circle cx="834.0" cy="774.3" r="15.8"/><circle cx="856.7" cy="783.3" r="15.8"/><circle cx="900.0" cy="793.3" r="15.8"/><circle cx="984.0" cy="737.3" r="15.8"/><circle cx="690.7" cy="785.0" r="15.8"/><circle cx="783.3" cy="830.0" r="15.8"/><circle cx="760.0" cy="858.3" r="15.8"/></g><g fill="#A0B4DC"><circle cx="256.0" cy="867.4" r="15.8"/><circle cx="316.8" cy="858.9" r="15.8"/><circle cx="414.6" cy="868.2" r="15.8"/><circle cx="391.5" cy="905.5" r="15.8"/><circle cx="307.5" cy="961.5" r="15.8"/><circle cx="455.7" cy="970.8" r="15.8"/><circle cx="582.8" cy="969.2" r="15.8"/><circle cx="582.8" cy="979.7" r="15.8"/><circle cx="559.1" cy="1002.9" r="15.8"/><circle cx="648.7" cy="1002.9" r="15.8"/><circle cx="624.8" cy="1031.7" r="15.8"/><circle cx="549.8" cy="1049.6" r="15.8"/><circle cx="498.6" cy="1067.2" r="15.8"/><circle cx="489.3" cy="1087.7" r="15.8"/><circle cx="540.4" cy="1087.7" r="15.8"/></g><g fill="#D796A5"><circle cx="1090.9" cy="756.1" r="15.8"/><circle cx="1267.7" cy="756.1" r="15.8"/><circle cx="1291.7" cy="793.7" r="15.8"/><circle cx="1161.2" cy="811.9" r="15.8"/><circle cx="1068.3" cy="840.0" r="15.8"/><circle cx="918.7" cy="904.8" r="15.8"/><circle cx="1025.6" cy="961.5" r="15.8"/><circle cx="960.8" cy="1003.2" r="15.8"/><circle cx="960.8" cy="1058.9" r="15.8"/><circle cx="858.8" cy="1077.0" r="15.8"/><circle cx="823.5" cy="1087.0" r="15.8"/><circle cx="1016.6" cy="1096.1" r="15.8"/><circle cx="1119.0" cy="1077.0" r="15.8"/><circle cx="1216.9" cy="1068.0" r="15.8"/><circle cx="1183.8" cy="1021.3" r="15.8"/><circle cx="1219.5" cy="1023.0" r="15.8"/><circle cx="1226.0" cy="1011.2" r="15.8"/><circle cx="1236.1" cy="1023.0" r="15.8"/><circle cx="1258.6" cy="987.7" r="15.8"/></g></g></g>
<g clip-path="url(#c-orange)"><g clip-path="url(#c-brown)"><g fill="#5fd0b0"><circle cx="287.3" cy="182.7" r="15.8"/><circle cx="317.3" cy="192.7" r="15.8"/><circle cx="489.3" cy="164.3" r="15.8"/><circle cx="372.7" cy="248.3" r="15.8"/><circle cx="330.7" cy="257.3" r="15.8"/><circle cx="298.3" cy="285.7" r="15.8"/><circle cx="359.0" cy="313.3" r="15.8"/><circle cx="401.0" cy="332.7" r="15.8"/><circle cx="507.7" cy="294.3" r="15.8"/><circle cx="582.7" cy="276.0" r="15.8"/><circle cx="614.1" cy="295.4" r="15.8"/><circle cx="624.6" cy="286.0" r="15.8"/><circle cx="601.7" cy="323.3" r="15.8"/></g><g fill="#69BEDC"><circle cx="802.3" cy="164.3" r="15.8"/><circle cx="867.3" cy="173.3" r="15.8"/><circle cx="951.7" cy="164.3" r="15.8"/><circle cx="1059.0" cy="182.7" r="15.8"/><circle cx="774.0" cy="210.7" r="15.8"/><circle cx="900.0" cy="266.0" r="15.8"/><circle cx="783.3" cy="350.0" r="15.8"/><circle cx="709.3" cy="378.3" r="15.8"/><circle cx="816.0" cy="406.7" r="15.8"/><circle cx="900.0" cy="406.7" r="15.8"/><circle cx="984.0" cy="378.3" r="15.8"/><circle cx="760.0" cy="495.6" r="15.8"/></g><g fill="#A0B4BE"><circle cx="1076.4" cy="331.9" r="15.8"/><circle cx="1226.3" cy="332.0" r="15.8"/><circle cx="1301.2" cy="339.9" r="15.8"/><circle cx="1142.8" cy="429.9" r="15.8"/><circle cx="1291.5" cy="448.3" r="15.8"/><circle cx="1091.0" cy="495.8" r="15.8"/><circle cx="984.4" cy="541.9" r="15.8"/><circle cx="1119.4" cy="597.7" r="15.8"/><circle cx="1268.1" cy="625.4" r="15.8"/><circle cx="1044.9" cy="635.1" r="15.8"/><circle cx="1058.2" cy="680.5" r="15.8"/></g><g fill="#B8B4DC"><circle cx="531.7" cy="457.3" r="15.8"/><circle cx="391.0" cy="495.7" r="15.8"/><circle cx="592.3" cy="504.3" r="15.8"/><circle cx="340.3" cy="532.7" r="15.8"/><circle cx="517.7" cy="541.7" r="15.8"/><circle cx="489.0" cy="551.7" r="15.8"/><circle cx="266.0" cy="626.0" r="15.8"/><circle cx="559.3" cy="663.3" r="15.8"/><circle cx="433.3" cy="716.7" r="15.8"/><circle cx="433.3" cy="736.7" r="15.8"/><circle cx="307.7" cy="737.3" r="15.8"/><circle cx="582.7" cy="728.3" r="15.8"/><circle cx="330.7" cy="774.0" r="15.8"/><circle cx="489.0" cy="784.0" r="15.8"/></g><g fill="#C8BEA5"><circle cx="848.8" cy="551.6" r="15.8"/><circle cx="700.0" cy="644.0" r="15.8"/><circle cx="919.0" cy="663.3" r="15.8"/><circle cx="718.3" cy="700.0" r="15.8"/><circle cx="740.0" cy="709.3" r="15.8"/><circle cx="760.0" cy="699.0" r="15.8"/><circle cx="783.3" cy="746.7" r="15.8"/><circle cx="876.7" cy="746.7" r="15.8"/><circle cx="900.0" cy="765.7" r="15.8"/><circle cx="834.0" cy="774.3" r="15.8"/><circle cx="856.7" cy="783.3" r="15.8"/><circle cx="900.0" cy="793.3" r="15.8"/><circle cx="984.0" cy="737.3" r="15.8"/><circle cx="690.7" cy="785.0" r="15.8"/><circle cx="783.3" cy="830.0" r="15.8"/><circle cx="760.0" cy="858.3" r="15.8"/></g><g fill="#A0B4DC"><circle cx="256.0" cy="867.4" r="15.8"/><circle cx="316.8" cy="858.9" r="15.8"/><circle cx="414.6" cy="868.2" r="15.8"/><circle cx="391.5" cy="905.5" r="15.8"/><circle cx="307.5" cy="961.5" r="15.8"/><circle cx="455.7" cy="970.8" r="15.8"/><circle cx="582.8" cy="969.2" r="15.8"/><circle cx="582.8" cy="979.7" r="15.8"/><circle cx="559.1" cy="1002.9" r="15.8"/><circle cx="648.7" cy="1002.9" r="15.8"/><circle cx="624.8" cy="1031.7" r="15.8"/><circle cx="549.8" cy="1049.6" r="15.8"/><circle cx="498.6" cy="1067.2" r="15.8"/><circle cx="489.3" cy="1087.7" r="15.8"/><circle cx="540.4" cy="1087.7" r="15.8"/></g><g fill="#D796A5"><circle cx="1090.9" cy="756.1" r="15.8"/><circle cx="1267.7" cy="756.1" r="15.8"/><circle cx="1291.7" cy="793.7" r="15.8"/><circle cx="1161.2" cy="811.9" r="15.8"/><circle cx="1068.3" cy="840.0" r="15.8"/><circle cx="918.7" cy="904.8" r="15.8"/><circle cx="1025.6" cy="961.5" r="15.8"/><circle cx="960.8" cy="1003.2" r="15.8"/><circle cx="960.8" cy="1058.9" r="15.8"/><circle cx="858.8" cy="1077.0" r="15.8"/><circle cx="823.5" cy="1087.0" r="15.8"/><circle cx="1016.6" cy="1096.1" r="15.8"/><circle cx="1119.0" cy="1077.0" r="15.8"/><circle cx="1216.9" cy="1068.0" r="15.8"/><circle cx="1183.8" cy="1021.3" r="15.8"/><circle cx="1219.5" cy="1023.0" r="15.8"/><circle cx="1226.0" cy="1011.2" r="15.8"/><circle cx="1236.1" cy="1023.0" r="15.8"/><circle cx="1258.6" cy="987.7" r="15.8"/></g></g></g>
<g clip-path="url(#c-brown)"><g clip-path="url(#c-red)"><g fill="#5fd0b0"><circle cx="287.3" cy="182.7" r="15.8"/><circle cx="317.3" cy="192.7" r="15.8"/><circle cx="489.3" cy="164.3" r="15.8"/><circle cx="372.7" cy="248.3" r="15.8"/><circle cx="330.7" cy="257.3" r="15.8"/><circle cx="298.3" cy="285.7" r="15.8"/><circle cx="359.0" cy="313.3" r="15.8"/><circle cx="401.0" cy="332.7" r="15.8"/><circle cx="507.7" cy="294.3" r="15.8"/><circle cx="582.7" cy="276.0" r="15.8"/><circle cx="614.1" cy="295.4" r="15.8"/><circle cx="624.6" cy="286.0" r="15.8"/><circle cx="601.7" cy="323.3" r="15.8"/></g><g fill="#69BEDC"><circle cx="802.3" cy="164.3" r="15.8"/><circle cx="867.3" cy="173.3" r="15.8"/><circle cx="951.7" cy="164.3" r="15.8"/><circle cx="1059.0" cy="182.7" r="15.8"/><circle cx="774.0" cy="210.7" r="15.8"/><circle cx="900.0" cy="266.0" r="15.8"/><circle cx="783.3" cy="350.0" r="15.8"/><circle cx="709.3" cy="378.3" r="15.8"/><circle cx="816.0" cy="406.7" r="15.8"/><circle cx="900.0" cy="406.7" r="15.8"/><circle cx="984.0" cy="378.3" r="15.8"/><circle cx="760.0" cy="495.6" r="15.8"/></g><g fill="#A0B4BE"><circle cx="1076.4" cy="331.9" r="15.8"/><circle cx="1226.3" cy="332.0" r="15.8"/><circle cx="1301.2" cy="339.9" r="15.8"/><circle cx="1142.8" cy="429.9" r="15.8"/><circle cx="1291.5" cy="448.3" r="15.8"/><circle cx="1091.0" cy="495.8" r="15.8"/><circle cx="984.4" cy="541.9" r="15.8"/><circle cx="1119.4" cy="597.7" r="15.8"/><circle cx="1268.1" cy="625.4" r="15.8"/><circle cx="1044.9" cy="635.1" r="15.8"/><circle cx="1058.2" cy="680.5" r="15.8"/></g><g fill="#B8B4DC"><circle cx="531.7" cy="457.3" r="15.8"/><circle cx="391.0" cy="495.7" r="15.8"/><circle cx="592.3" cy="504.3" r="15.8"/><circle cx="340.3" cy="532.7" r="15.8"/><circle cx="517.7" cy="541.7" r="15.8"/><circle cx="489.0" cy="551.7" r="15.8"/><circle cx="266.0" cy="626.0" r="15.8"/><circle cx="559.3" cy="663.3" r="15.8"/><circle cx="433.3" cy="716.7" r="15.8"/><circle cx="433.3" cy="736.7" r="15.8"/><circle cx="307.7" cy="737.3" r="15.8"/><circle cx="582.7" cy="728.3" r="15.8"/><circle cx="330.7" cy="774.0" r="15.8"/><circle cx="489.0" cy="784.0" r="15.8"/></g><g fill="#C8BEA5"><circle cx="848.8" cy="551.6" r="15.8"/><circle cx="700.0" cy="644.0" r="15.8"/><circle cx="919.0" cy="663.3" r="15.8"/><circle cx="718.3" cy="700.0" r="15.8"/><circle cx="740.0" cy="709.3" r="15.8"/><circle cx="760.0" cy="699.0" r="15.8"/><circle cx="783.3" cy="746.7" r="15.8"/><circle cx="876.7" cy="746.7" r="15.8"/><circle cx="900.0" cy="765.7" r="15.8"/><circle cx="834.0" cy="774.3" r="15.8"/><circle cx="856.7" cy="783.3" r="15.8"/><circle cx="900.0" cy="793.3" r="15.8"/><circle cx="984.0" cy="737.3" r="15.8"/><circle cx="690.7" cy="785.0" r="15.8"/><circle cx="783.3" cy="830.0" r="15.8"/><circle cx="760.0" cy="858.3" r="15.8"/></g><g fill="#A0B4DC"><circle cx="256.0" cy="867.4" r="15.8"/><circle cx="316.8" cy="858.9" r="15.8"/><circle cx="414.6" cy="868.2" r="15.8"/><circle cx="391.5" cy="905.5" r="15.8"/><circle cx="307.5" cy="961.5" r="15.8"/><circle cx="455.7" cy="970.8" r="15.8"/><circle cx="582.8" cy="969.2" r="15.8"/><circle cx="582.8" cy="979.7" r="15.8"/><circle cx="559.1" cy="1002.9" r="15.8"/><circle cx="648.7" cy="1002.9" r="15.8"/><circle cx="624.8" cy="1031.7" r="15.8"/><circle cx="549.8" cy="1049.6" r="15.8"/><circle cx="498.6" cy="1067.2" r="15.8"/><circle cx="489.3" cy="1087.7" r="15.8"/><circle cx="540.4" cy="1087.7" r="15.8"/></g><g fill="#D796A5"><circle cx="1090.9" cy="756.1" r="15.8"/><circle cx="1267.7" cy="756.1" r="15.8"/><circle cx="1291.7" cy="793.7" r="15.8"/><circle cx="1161.2" cy="811.9" r="15.8"/><circle cx="1068.3" cy="840.0" r="15.8"/><circle cx="918.7" cy="904.8" r="15.8"/><circle cx="1025.6" cy="961.5" r="15.8"/><circle cx="960.8" cy="1003.2" r="15.8"/><circle cx="960.8" cy="1058.9" r="15.8"/><circle cx="858.8" cy="1077.0" r="15.8"/><circle cx="823.5" cy="1087.0" r="15.8"/><circle cx="1016.6" cy="1096.1" r="15.8"/><circle cx="1119.0" cy="1077.0" r="15.8"/><circle cx="1216.9" cy="1068.0" r="15.8"/><circle cx="1183.8" cy="1021.3" r="15.8"/><circle cx="1219.5" cy="1023.0" r="15.8"/><circle cx="1226.0" cy="1011.2" r="15.8"/><circle cx="1236.1" cy="1023.0" r="15.8"/><circle cx="1258.6" cy="987.7" r="15.8"/></g></g></g>
<g clip-path="url(#c-green)"><g clip-path="url(#c-blue)"><g fill="#5fd0b0"><circle cx="287.3" cy="182.7" r="15.8"/><circle cx="317.3" cy="192.7" r="15.8"/><circle cx="489.3" cy="164.3" r="15.8"/><circle cx="372.7" cy="248.3" r="15.8"/><circle cx="330.7" cy="257.3" r="15.8"/><circle cx="298.3" cy="285.7" r="15.8"/><circle cx="359.0" cy="313.3" r="15.8"/><circle cx="401.0" cy="332.7" r="15.8"/><circle cx="507.7" cy="294.3" r="15.8"/><circle cx="582.7" cy="276.0" r="15.8"/><circle cx="614.1" cy="295.4" r="15.8"/><circle cx="624.6" cy="286.0" r="15.8"/><circle cx="601.7" cy="323.3" r="15.8"/></g><g fill="#69BEDC"><circle cx="802.3" cy="164.3" r="15.8"/><circle cx="867.3" cy="173.3" r="15.8"/><circle cx="951.7" cy="164.3" r="15.8"/><circle cx="1059.0" cy="182.7" r="15.8"/><circle cx="774.0" cy="210.7" r="15.8"/><circle cx="900.0" cy="266.0" r="15.8"/><circle cx="783.3" cy="350.0" r="15.8"/><circle cx="709.3" cy="378.3" r="15.8"/><circle cx="816.0" cy="406.7" r="15.8"/><circle cx="900.0" cy="406.7" r="15.8"/><circle cx="984.0" cy="378.3" r="15.8"/><circle cx="760.0" cy="495.6" r="15.8"/></g><g fill="#A0B4BE"><circle cx="1076.4" cy="331.9" r="15.8"/><circle cx="1226.3" cy="332.0" r="15.8"/><circle cx="1301.2" cy="339.9" r="15.8"/><circle cx="1142.8" cy="429.9" r="15.8"/><circle cx="1291.5" cy="448.3" r="15.8"/><circle cx="1091.0" cy="495.8" r="15.8"/><circle cx="984.4" cy="541.9" r="15.8"/><circle cx="1119.4" cy="597.7" r="15.8"/><circle cx="1268.1" cy="625.4" r="15.8"/><circle cx="1044.9" cy="635.1" r="15.8"/><circle cx="1058.2" cy="680.5" r="15.8"/></g><g fill="#B8B4DC"><circle cx="531.7" cy="457.3" r="15.8"/><circle cx="391.0" cy="495.7" r="15.8"/><circle cx="592.3" cy="504.3" r="15.8"/><circle cx="340.3" cy="532.7" r="15.8"/><circle cx="517.7" cy="541.7" r="15.8"/><circle cx="489.0" cy="551.7" r="15.8"/><circle cx="266.0" cy="626.0" r="15.8"/><circle cx="559.3" cy="663.3" r="15.8"/><circle cx="433.3" cy="716.7" r="15.8"/><circle cx="433.3" cy="736.7" r="15.8"/><circle cx="307.7" cy="737.3" r="15.8"/><circle cx="582.7" cy="728.3" r="15.8"/><circle cx="330.7" cy="774.0" r="15.8"/><circle cx="489.0" cy="784.0" r="15.8"/></g><g fill="#C8BEA5"><circle cx="848.8" cy="551.6" r="15.8"/><circle cx="700.0" cy="644.0" r="15.8"/><circle cx="919.0" cy="663.3" r="15.8"/><circle cx="718.3" cy="700.0" r="15.8"/><circle cx="740.0" cy="709.3" r="15.8"/><circle cx="760.0" cy="699.0" r="15.8"/><circle cx="783.3" cy="746.7" r="15.8"/><circle cx="876.7" cy="746.7" r="15.8"/><circle cx="900.0" cy="765.7" r="15.8"/><circle cx="834.0" cy="774.3" r="15.8"/><circle cx="856.7" cy="783.3" r="15.8"/><circle cx="900.0" cy="793.3" r="15.8"/><circle cx="984.0" cy="737.3" r="15.8"/><circle cx="690.7" cy="785.0" r="15.8"/><circle cx="783.3" cy="830.0" r="15.8"/><circle cx="760.0" cy="858.3" r="15.8"/></g><g fill="#A0B4DC"><circle cx="256.0" cy="867.4" r="15.8"/><circle cx="316.8" cy="858.9" r="15.8"/><circle cx="414.6" cy="868.2" r="15.8"/><circle cx="391.5" cy="905.5" r="15.8"/><circle cx="307.5" cy="961.5" r="15.8"/><circle cx="455.7" cy="970.8" r="15.8"/><circle cx="582.8" cy="969.2" r="15.8"/><circle cx="582.8" cy="979.7" r="15.8"/><circle cx="559.1" cy="1002.9" r="15.8"/><circle cx="648.7" cy="1002.9" r="15.8"/><circle cx="624.8" cy="1031.7" r="15.8"/><circle cx="549.8" cy="1049.6" r="15.8"/><circle cx="498.6" cy="1067.2" r="15.8"/><circle cx="489.3" cy="1087.7" r="15.8"/><circle cx="540.4" cy="1087.7" r="15.8"/></g><g fill="#D796A5"><circle cx="1090.9" cy="756.1" r="15.8"/><circle cx="1267.7" cy="756.1" r="15.8"/><circle cx="1291.7" cy="793.7" r="15.8"/><circle cx="1161.2" cy="811.9" r="15.8"/><circle cx="1068.3" cy="840.0" r="15.8"/><circle cx="918.7" cy="904.8" r="15.8"/><circle cx="1025.6" cy="961.5" r="15.8"/><circle cx="960.8" cy="1003.2" r="15.8"/><circle cx="960.8" cy="1058.9" r="15.8"/><circle cx="858.8" cy="1077.0" r="15.8"/><circle cx="823.5" cy="1087.0" r="15.8"/><circle cx="1016.6" cy="1096.1" r="15.8"/><circle cx="1119.0" cy="1077.0" r="15.8"/><circle cx="1216.9" cy="1068.0" r="15.8"/><circle cx="1183.8" cy="1021.3" r="15.8"/><circle cx="1219.5" cy="1023.0" r="15.8"/><circle cx="1226.0" cy="1011.2" r="15.8"/><circle cx="1236.1" cy="1023.0" r="15.8"/><circle cx="1258.6" cy="987.7" r="15.8"/></g></g></g>
</g>
<g filter="url(#soft)">
<rect x="163.8" y="30.0" width="1300.5" height="1266.4" fill="none" stroke="#2a2a2a" stroke-width="4.5"/>
<g stroke="#2a2a2a" stroke-width="4.5">
<line x1="147.5" x2="163.8" y1="155.1" y2="155.1"/>
<line x1="147.5" x2="163.8" y1="341.2" y2="341.2"/>
<line x1="147.5" x2="163.8" y1="532.3" y2="532.3"/>
<line x1="147.5" x2="163.8" y1="719.1" y2="719.1"/>
<line x1="147.5" x2="163.8" y1="905.3" y2="905.3"/>
<line x1="147.5" x2="163.8" y1="1095.9" y2="1095.9"/>
<line x1="147.5" x2="163.8" y1="1282.6" y2="1282.6"/>
<line x1="256" x2="256" y1="1296.4" y2="1315.5"/>
<line x1="465.7" x2="465.7" y1="1296.4" y2="1315.5"/>
<line x1="676" x2="676" y1="1296.4" y2="1315.5"/>
<line x1="890.7" x2="890.7" y1="1296.4" y2="1315.5"/>
<line x1="1100" x2="1100" y1="1296.4" y2="1315.5"/>
<line x1="1310" x2="1310" y1="1296.4" y2="1315.5"/>
</g>
<text x="38.1" y="170.6" font-size="48.0" letter-spacing="-3.83" stroke="#1e1e1e" stroke-width="0.8">100</text>
<text x="72.0" y="359.0" font-size="48.0" letter-spacing="-5.42" stroke="#1e1e1e" stroke-width="0.8">80</text>
<text x="71.1" y="547.4" font-size="48.0" letter-spacing="-4.46" stroke="#1e1e1e" stroke-width="0.8">60</text>
<text x="71.9" y="734.2" font-size="48.0" letter-spacing="-5.28" stroke="#1e1e1e" stroke-width="0.8">40</text>
<text x="71.3" y="925.2" font-size="48.0" letter-spacing="-3.96" stroke="#1e1e1e" stroke-width="0.8">20</text>
<text x="104.6" y="1111.1" font-size="48.0" letter-spacing="0.00" stroke="#1e1e1e" stroke-width="0.8">0</text>
<text x="30.7" y="1298.6" font-size="48.0" letter-spacing="-4.06" stroke="#1e1e1e" stroke-width="0.8">−20</text>
<text x="240.3" y="1362.3" font-size="48.0" letter-spacing="0.00" stroke="#1e1e1e" stroke-width="0.8">0</text>
<text x="440.7" y="1362.3" font-size="48.0" letter-spacing="-4.76" stroke="#1e1e1e" stroke-width="0.8">20</text>
<text x="645.6" y="1362.3" font-size="48.0" letter-spacing="-5.38" stroke="#1e1e1e" stroke-width="0.8">40</text>
<text x="860.4" y="1362.3" font-size="48.0" letter-spacing="-6.16" stroke="#1e1e1e" stroke-width="0.8">60</text>
<text x="1069.3" y="1362.3" font-size="48.0" letter-spacing="-5.12" stroke="#1e1e1e" stroke-width="0.8">80</text>
<text x="1264.0" y="1362.3" font-size="48.0" letter-spacing="-2.78" stroke="#1e1e1e" stroke-width="0.8">100</text>
<text x="790.4" y="613" font-size="50" fill="#111" stroke="#111" stroke-width="0.5" letter-spacing="-1.5">BS</text>
</g>
</svg></body></html>
